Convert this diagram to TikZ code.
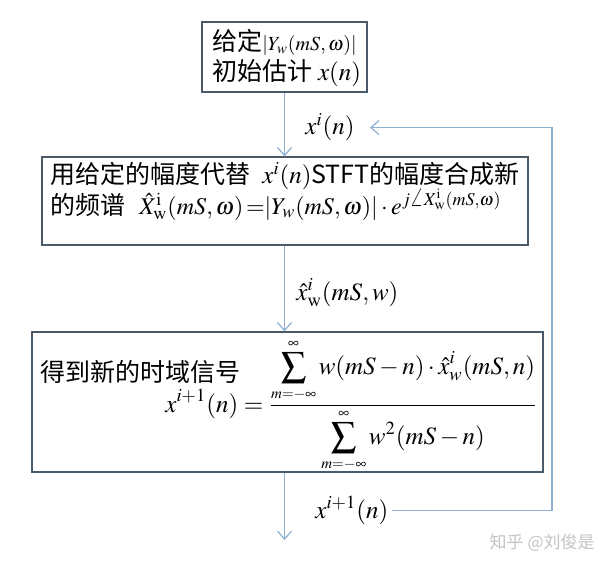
\documentclass[tikz,border=0pt]{standalone}
\usepackage{mathptmx}
\usepackage[no-math]{fontspec}
\setmainfont{Noto Sans CJK SC}
\usetikzlibrary{arrows.meta}
\definecolor{boxline}{RGB}{75,90,105}
\definecolor{flowline}{RGB}{140,175,210}
\definecolor{markgray}{RGB}{195,195,195}
\tikzset{
  stepbox/.style={draw=boxline, line width=0.6pt, inner sep=0pt},
  flow/.style={draw=flowline, line width=0.6pt, -{Straight Barb[length=4pt,width=7pt]}},
  txt/.style={anchor=base west, inner sep=0pt, font=\fontsize{12.5}{15}\selectfont},
}
\begin{document}
\begin{tikzpicture}[x=0.5pt,y=-0.5pt]
\useasboundingbox (0,0) rectangle (611,567);
% boxes
\node[stepbox, minimum width=82.5pt, minimum height=35pt] (init) at (284.5,57) {};
\node[stepbox, minimum width=243pt, minimum height=44pt] (spec) at (285,201) {};
\node[stepbox, minimum width=255.5pt, minimum height=70pt] (recon) at (287.5,402) {};

% box texts
\node[txt] (init1) at (212,51) {给定{\fontsize{10}{12}\selectfont$|Y_w(mS,\omega)|$}};
\node[txt] (init2) at (212,81) {初始估计 $x(n)$};

\node[txt] (spec1) at (50,184) {用给定的幅度代替\hspace{6pt}$x^i(n)$STFT的幅度合成新};
\node[txt] (spec2) at (50,214) {的频谱\hspace{7pt}{\fontsize{12}{14}\selectfont$\hat{X}^{\mathrm{i}}_{\mathrm{w}}(mS,\omega)\,{=}|Y_w(mS,\omega)|\cdot e^{j\angle X^{\mathrm{i}}_{\mathrm{w}}(mS,\omega)}$}};

\node[txt] (rec1) at (40,381) {得到新的时域信号};
\node[txt] (rec2) at (165,412) {$\displaystyle x^{i+1}(n)=\frac{\displaystyle\sum_{\scriptscriptstyle m=-\infty}^{\scriptscriptstyle\infty} w(mS-n)\cdot\hat{x}^i_w(mS,n)}{\displaystyle\sum_{\scriptscriptstyle m=-\infty}^{\scriptscriptstyle\infty} w^2(mS-n)}$};

% signals
\node[txt] (xi) at (305,135) {$x^i(n)$};
\node[txt] (xhat) at (296,300) {$\hat{x}^i_{\mathrm{w}}(mS,w)$};
\node[txt] (xnext) at (315,518) {$x^{i+1}(n)$};

% arrows
\coordinate (out) at (284.5,540);
\coordinate (fbk) at (552,300);
\draw[flow] (init.south) -- (init.south |- spec.north);
\draw[flow] (init.south |- spec.south) -- (init.south |- recon.north);
\draw[flow] (init.south |- recon.south) -- (out);
\draw[flow, shorten <=1.5pt, shorten >=7.5pt] (xnext.east) -- (xnext.east -| fbk) -- (fbk |- xi.east) -- (xi.east);

\node[anchor=base east, inner sep=0pt, text=markgray, font=\fontsize{8.5}{10}\selectfont] (mark) at (595,548) {知乎 @刘俊是};
\end{tikzpicture}
\end{document}
